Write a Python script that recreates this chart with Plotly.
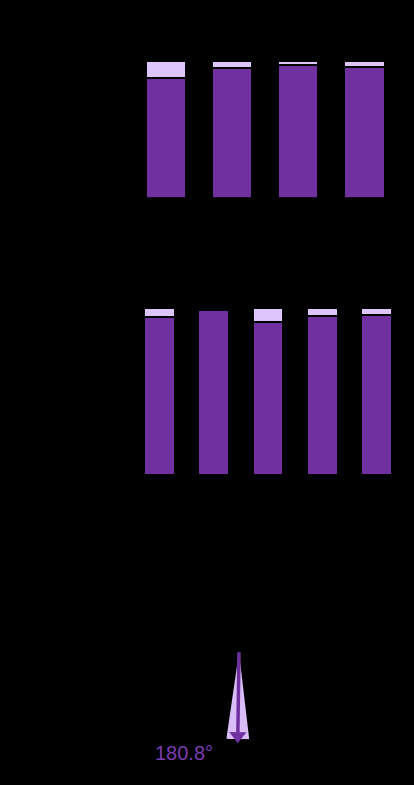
import plotly.graph_objects as go

# top panel: share of readings per period (dark = in range, light = out of range)
top_periods = ["P1", "P2", "P3", "P4"]
top_in_range = [87.4, 94.9, 96.9, 95.5]
top_out_range = [12.6, 5.1, 3.1, 4.5]

# bottom panel
bottom_periods = ["S1", "S2", "S3", "S4", "S5"]
bottom_in_range = [94.7, 98.6, 91.5, 95.0, 95.8]
bottom_out_range = [5.3, 1.4, 8.5, 5.0, 4.2]

# mean direction and spread (degrees)
direction_mean = 180.8
direction_spread = 7.5

DARK = "#7030a0"
LIGHT = "#dcc6fb"
W, H = 414, 785


def px_x(p):
    return p / W


def px_y(p):
    return 1 - p / H


fig = go.Figure()

fig.add_trace(go.Bar(x=top_periods, y=top_in_range, marker=dict(color=DARK, line=dict(color="black", width=2)),
                     width=0.61, xaxis="x", yaxis="y", name="in range"))
fig.add_trace(go.Bar(x=top_periods, y=top_out_range, marker=dict(color=LIGHT, line=dict(color="black", width=2)),
                     width=0.61, xaxis="x", yaxis="y", name="out of range"))
fig.add_trace(go.Bar(x=bottom_periods, y=bottom_in_range, marker=dict(color=DARK, line=dict(color="black", width=2)),
                     width=0.57, xaxis="x2", yaxis="y2", name="in range"))
fig.add_trace(go.Bar(x=bottom_periods, y=bottom_out_range, marker=dict(color=LIGHT, line=dict(color="black", width=2)),
                     width=0.57, xaxis="x2", yaxis="y2", name="out of range"))

# direction wedge + arrow
fig.add_trace(go.Scatterpolar(
    r=[0, 1, 1, 0],
    theta=[direction_mean, direction_mean - direction_spread, direction_mean + direction_spread, direction_mean],
    mode="lines", fill="toself", fillcolor="#d9bdf8", line=dict(color="#d9bdf8", width=0),
    subplot="polar", hoverinfo="skip",
))
fig.add_trace(go.Scatterpolar(
    r=[0, 0.92], theta=[direction_mean, direction_mean],
    mode="lines", line=dict(color=DARK, width=3.5),
    subplot="polar", hoverinfo="skip",
))
fig.add_trace(go.Scatterpolar(
    r=[0.955], theta=[direction_mean],
    mode="markers",
    marker=dict(symbol="triangle-up", size=15, angle=direction_mean, color=DARK),
    subplot="polar",
))

axis_off = dict(visible=False, showgrid=False, zeroline=False, fixedrange=True)
fig.update_layout(
    width=W, height=H,
    margin=dict(l=0, r=0, t=0, b=0),
    paper_bgcolor="black", plot_bgcolor="black",
    barmode="stack",
    showlegend=False,
    font=dict(family="Liberation Sans, Arial, sans-serif", color=DARK),
    xaxis=dict(axis_off, domain=[px_x(133), px_x(397.5)]),
    yaxis=dict(axis_off, domain=[px_y(197.7), px_y(60.7)], range=[0, 100]),
    xaxis2=dict(axis_off, domain=[px_x(132.3), px_x(403.7)]),
    yaxis2=dict(axis_off, domain=[px_y(475), px_y(307.7)], range=[0, 100]),
    polar=dict(
        domain=dict(x=[px_x(151.5), px_x(326.5)], y=[px_y(739.8), px_y(564.8)]),
        bgcolor="black",
        radialaxis=dict(visible=False, range=[0, 1]),
        angularaxis=dict(visible=False, direction="clockwise", rotation=90),
    ),
    annotations=[dict(
        text=f"{direction_mean}°", x=px_x(184), y=px_y(753), xref="paper", yref="paper",
        xanchor="center", yanchor="middle",
        showarrow=False, font=dict(size=20, color="#7b3db3"),
    )],
)

# page body has a default 8px margin; drop it so the black figure fills the window
fig.write_html("out.html", config={"displayModeBar": False},
               post_script="document.body.style.margin='0';document.body.style.background='black';")
